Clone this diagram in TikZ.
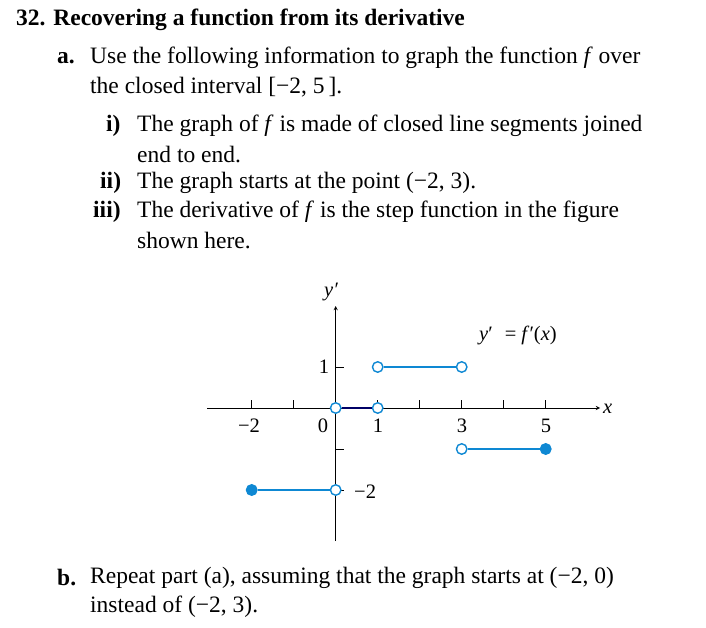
\documentclass[tikz,border=0pt]{standalone}
\usepackage{fontspec}
\setmainfont{Liberation Serif}
\begin{document}
\begin{tikzpicture}[x=1pt,y=-1pt,
  txt/.style={anchor=west,inner sep=0pt,font=\fontsize{23.5}{28}\selectfont},
  bt/.style={anchor=west,inner sep=0pt,font=\fontsize{23.5}{28}\selectfont\bfseries},
  lab/.style={inner sep=1pt,font=\fontsize{20.5}{24}\selectfont},
  seg/.style={line width=2pt,color=cyan!70!blue},
  opn/.style={circle,draw=cyan!70!blue,fill=white,line width=1.4pt,inner sep=0pt,minimum size=10.5pt},
  cls/.style={circle,draw=cyan!70!blue,fill=cyan!70!blue,line width=1.4pt,inner sep=0pt,minimum size=10.5pt}]
\useasboundingbox (0,0) rectangle (706,628);
\node[bt] (t) at (16,20) {32. Recovering a function from its derivative};
\node[bt] (a) at (57,58) {a.};
\node[txt] (a1) at (90,58) {Use the following information to graph the function \textit{f} over};
\node[txt] (a2) at (90,87) {the closed interval [−2, 5\,].};
\node[bt] (i) at (106,126) {i)};
\node[txt] (i1) at (137,126) {The graph of \textit{f} is made of closed line segments joined};
\node[txt] (i2) at (137,155) {end to end.};
\node[bt] (ii) at (100,183) {ii)};
\node[txt] (ii1) at (137,183) {The graph starts at the point (−2, 3).};
\node[bt] (iii) at (93,212) {iii)};
\node[txt] (iii1) at (137,212) {The derivative of \textit{f} is the step function in the figure};
\node[txt] (iii2) at (137,241) {shown here.};
\node[bt] (b) at (57,578) {b.};
\node[txt] (b1) at (90,578) {Repeat part (a), assuming that the graph starts at (−2, 0)};
\node[txt] (b2) at (90,607) {instead of (−2, 3).};
% axes
\coordinate (xl) at (207,408); \coordinate (xr) at (600,408);
\coordinate (yb) at (335.7,541); \coordinate (yt) at (335.7,306);
\draw[line width=0.9pt,-stealth] (xl) -- (xr);
\draw[line width=0.9pt,-stealth] (yb) -- (yt);
\node[lab,anchor=west,font=\fontsize{20.5}{24}\selectfont\itshape] (xlab) at (602,409) {x};
\node[lab,anchor=south,font=\fontsize{20.5}{24}\selectfont\itshape] (ylab) at (331,302) {y′};
\foreach \k in {-2,-1,1,2,3,4,5} \draw[line width=0.9pt] (335.7+42*\k,408) -- ++(0,-8);
\foreach \k in {1,-1,-2} \draw[line width=0.9pt] (335.7,408-41*\k) -- ++(8,0);
\node[lab] (n2) at (249,426) {−2};
\node[lab] (n0) at (323,426) {0};
\node[lab] (n1) at (378,426) {1};
\node[lab] (n3) at (462,426) {3};
\node[lab] (n5) at (546,426) {5};
\node[lab] (m1) at (324,367) {1};
\node[lab,anchor=west] (m2) at (353,492) {−2};
\node[lab,anchor=west] (fl) at (478,335) {\textit{y}′\,\, = \textit{f}′(\textit{x})};
% segments
\node[opn] (p0) at (335.7,408) {};
\node[opn] (p1) at (377.7,408) {};
\draw[line width=2pt,color=blue!40!black] (p0) -- (p1);
\node[opn] (q1) at (377.7,367) {};
\node[opn] (q3) at (461.7,367) {};
\draw[seg] (q1) -- (q3);
\node[opn] (r3) at (461.7,449) {};
\node[cls] (r5) at (545.7,449) {};
\draw[seg] (r3) -- (r5);
\node[cls] (sm) at (251.7,490) {};
\node[opn] (s0) at (335.7,490) {};
\draw[seg] (sm) -- (s0);
\end{tikzpicture}
\end{document}
